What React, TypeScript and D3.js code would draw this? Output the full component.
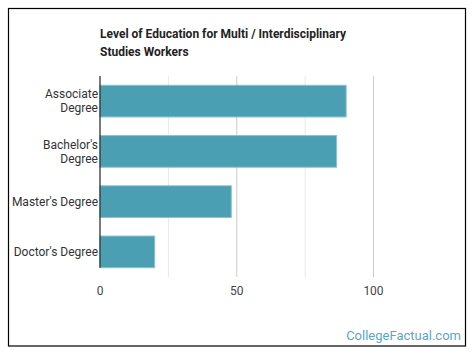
import React from "react";
import * as d3 from "d3";

const categories: string[][] = [
  ["Associate", "Degree"],
  ["Bachelor's", "Degree"],
  ["Master's Degree"],
  ["Doctor's Degree"],
];
const values: number[] = [90, 86.5, 48, 20];
const majorTicks: number[] = [0, 50, 100];
const minorTicks: number[] = [25, 75];
const titleLines: string[] = [
  "Level of Education for Multi / Interdisciplinary",
  "Studies Workers",
];

export default function App() {
  const W = 476;
  const H = 357;
  const x = d3.scaleLinear().domain([0, 100]).range([100, 373.5]);
  const y = d3
    .scaleBand<number>()
    .domain(d3.range(categories.length))
    .range([76, 277])
    .paddingInner(0.37)
    .paddingOuter(0.185);
  const font = "Roboto, 'Noto Sans', sans-serif";
  const bw = y.bandwidth();
  const lastBottom = (y(categories.length - 1) ?? 0) + bw;
  return (
    <svg
      width={W}
      height={H}
      style={{ position: "absolute", left: 0, top: 0, background: "#fff" }}
      fontFamily={font}
    >
      <rect x={8.5} y={8.5} width={457} height={337.5} fill="#fff" stroke="#000" strokeWidth={1.2} />
      {titleLines.map((t, i) => (
        <text key={i} x={100} y={38 + i * 18} fontSize={12} fontWeight="bold" fill="#222">
          {t}
        </text>
      ))}
      {minorTicks.map((t) => (
        <line key={"m" + t} x1={x(t)} x2={x(t)} y1={76} y2={277} stroke="#e8e8e8" strokeWidth={1} />
      ))}
      {majorTicks.filter((t) => t !== 0).map((t) => (
        <line key={"M" + t} x1={x(t)} x2={x(t)} y1={76} y2={277} stroke="#cccccc" strokeWidth={1} />
      ))}
      {values.map((v, i) => (
        <rect
          key={i}
          x={x(0)}
          y={y(i)}
          width={x(v) - x(0)}
          height={bw}
          fill="#4a9fb3"
          stroke="#86c3cf"
          strokeWidth={1}
        />
      ))}
      <line x1={x(0)} x2={x(0)} y1={76} y2={lastBottom} stroke="#222" strokeWidth={1.2} />
      {categories.map((lines, i) => {
        const cy = (y(i) ?? 0) + bw / 2;
        const start = cy - ((lines.length - 1) * 14) / 2;
        return (
          <text key={i} x={98} textAnchor="end" fontSize={12} fill="#333">
            {lines.map((l, j) => (
              <tspan key={j} x={98} y={start + j * 14} dy="0.35em">
                {l}
              </tspan>
            ))}
          </text>
        );
      })}
      {majorTicks.map((t) => (
        <text key={"t" + t} x={x(t)} y={291} dy="0.35em" textAnchor="middle" fontSize={12} fill="#444">
          {t}
        </text>
      ))}
      <text x={461} y={335} dy="0.35em" textAnchor="end" fontSize={13} fill="#5aa7bf">
        CollegeFactual.com
      </text>
    </svg>
  );
}
